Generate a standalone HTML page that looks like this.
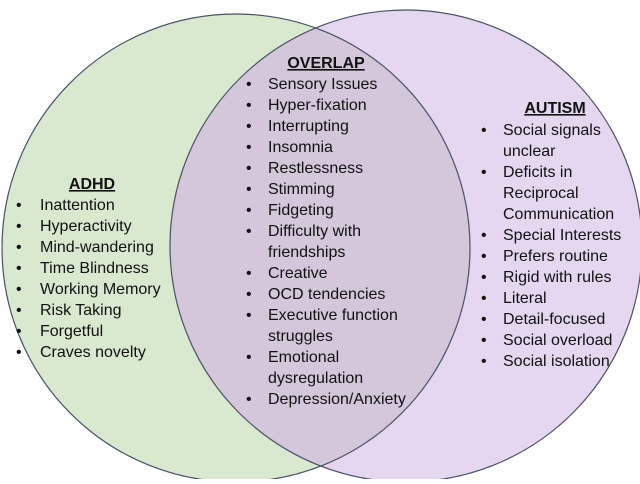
<!DOCTYPE html>
<html><head><style>
body{margin:0;background:#fff}
svg text{font-family:"Liberation Sans",sans-serif;font-size:16px;fill:#111}
.t{font-weight:bold;text-decoration:underline}
</style></head><body>
<svg width="640" height="479" viewBox="0 0 640 479" xmlns="http://www.w3.org/2000/svg">
<defs><clipPath id="c"><circle cx="236" cy="248" r="234"/></clipPath></defs>
<circle cx="236" cy="248" r="234" fill="#d9e9d0"/>
<circle cx="406" cy="246" r="236" fill="#e4d7ef"/>
<circle cx="406" cy="246" r="236" fill="#d4c7da" clip-path="url(#c)"/>
<circle cx="236" cy="248" r="234" fill="none" stroke="#4a5266" stroke-width="1.2"/>
<circle cx="406" cy="246" r="236" fill="none" stroke="#4a5266" stroke-width="1.2"/>
<g>
<text x="92" y="189" text-anchor="middle" class="t">ADHD</text>
<text x="16" y="210">•</text><text x="40" y="210">Inattention</text>
<text x="16" y="231">•</text><text x="40" y="231">Hyperactivity</text>
<text x="16" y="252">•</text><text x="40" y="252">Mind-wandering</text>
<text x="16" y="273">•</text><text x="40" y="273">Time Blindness</text>
<text x="16" y="294">•</text><text x="40" y="294">Working Memory</text>
<text x="16" y="315">•</text><text x="40" y="315">Risk Taking</text>
<text x="16" y="336">•</text><text x="40" y="336">Forgetful</text>
<text x="16" y="357">•</text><text x="40" y="357">Craves novelty</text>
<text x="326" y="68" text-anchor="middle" class="t">OVERLAP</text>
<text x="246" y="89">•</text><text x="268" y="89">Sensory Issues</text>
<text x="246" y="110">•</text><text x="268" y="110">Hyper-fixation</text>
<text x="246" y="131">•</text><text x="268" y="131">Interrupting</text>
<text x="246" y="152">•</text><text x="268" y="152">Insomnia</text>
<text x="246" y="173">•</text><text x="268" y="173">Restlessness</text>
<text x="246" y="194">•</text><text x="268" y="194">Stimming</text>
<text x="246" y="215">•</text><text x="268" y="215">Fidgeting</text>
<text x="246" y="236">•</text><text x="268" y="236">Difficulty with</text>
<text x="268" y="257">friendships</text>
<text x="246" y="278">•</text><text x="268" y="278">Creative</text>
<text x="246" y="299">•</text><text x="268" y="299">OCD tendencies</text>
<text x="246" y="320">•</text><text x="268" y="320">Executive function</text>
<text x="268" y="341">struggles</text>
<text x="246" y="362">•</text><text x="268" y="362">Emotional</text>
<text x="268" y="383">dysregulation</text>
<text x="246" y="404">•</text><text x="268" y="404">Depression/Anxiety</text>
<text x="555" y="113" text-anchor="middle" class="t">AUTISM</text>
<text x="481" y="135">•</text><text x="503" y="135">Social signals</text>
<text x="503" y="156">unclear</text>
<text x="481" y="177">•</text><text x="503" y="177">Deficits in</text>
<text x="503" y="198">Reciprocal</text>
<text x="503" y="219">Communication</text>
<text x="481" y="240">•</text><text x="503" y="240">Special Interests</text>
<text x="481" y="261">•</text><text x="503" y="261">Prefers routine</text>
<text x="481" y="282">•</text><text x="503" y="282">Rigid with rules</text>
<text x="481" y="303">•</text><text x="503" y="303">Literal</text>
<text x="481" y="324">•</text><text x="503" y="324">Detail-focused</text>
<text x="481" y="345">•</text><text x="503" y="345">Social overload</text>
<text x="481" y="366">•</text><text x="503" y="366">Social isolation</text>
</g>
</svg>
</body></html>
